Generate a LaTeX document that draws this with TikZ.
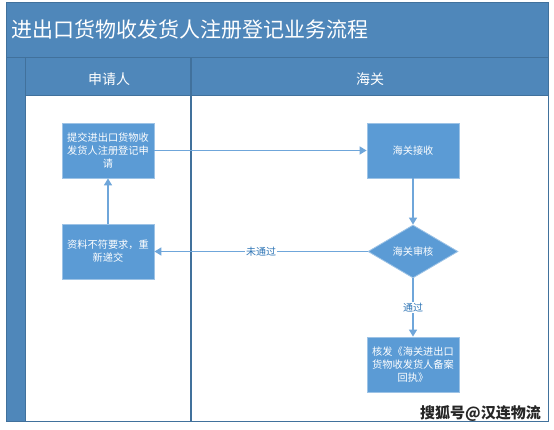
\documentclass[tikz,border=0pt]{standalone}
\usepackage{fontspec}
\setmainfont{Noto Sans CJK SC}
\usetikzlibrary{shapes.geometric,arrows.meta}
\definecolor{barblue}{HTML}{4F87BA}
\definecolor{edgeblue}{HTML}{41719C}
\definecolor{boxblue}{HTML}{5B9BD5}
\definecolor{lineblue}{HTML}{6FA6DA}
\definecolor{labblue}{HTML}{2E75B6}
\tikzset{
  procbox/.style={draw=boxblue!60!white, line width=0.8pt, fill=boxblue, minimum width=92pt, minimum height=55pt, align=center, font=\fontsize{10.2}{13}\selectfont, text=white, inner sep=0pt},
  decbox/.style={diamond, aspect=1.7, draw=boxblue!60!white, line width=0.8pt, fill=boxblue, minimum width=90pt, minimum height=53pt, font=\fontsize{10.2}{13}\selectfont, text=white, inner sep=0pt},
  flow/.style={draw=lineblue, line width=1.4pt, -{Triangle[length=7pt,width=8pt]}},
  flowlab/.style={fill=white, font=\fontsize{10}{12}\selectfont, text=labblue, inner sep=1pt},
}
\begin{document}
\begin{tikzpicture}[x=1pt,y=-1pt]
\useasboundingbox (0,0) rectangle (554,430);
% frame
\fill[white] (6,3) rectangle (548.5,421.5);
\fill[barblue] (6,3) rectangle (548.5,57.5);
\fill[barblue] (6,57.5) rectangle (548.5,96);
\fill[barblue] (6,96) rectangle (25,421.5);
\draw[edgeblue, line width=1pt] (6,57.5) -- (548.5,57.5);
\draw[edgeblue, line width=1pt] (25,57.5) -- (25,421.5);
\draw[edgeblue, line width=1pt] (25,96) -- (548.5,96);
\draw[edgeblue, line width=1.8pt] (191,57.5) -- (191,421.5);
\draw[edgeblue, line width=1pt] (6,3) rectangle (548.5,421.5);
% texts
\node[anchor=west, text=white, font=\fontsize{21}{24}\selectfont, inner sep=0pt] (title) at (11,30) {进出口货物收发货人注册登记业务流程};
\node[text=white, font=\fontsize{14}{16}\selectfont, inner sep=0pt] (lane1) at (109,79) {申请人};
\node[text=white, font=\fontsize{14}{16}\selectfont, inner sep=0pt] (lane2) at (370,79) {海关};
% nodes
\node[procbox] (submit) at (108,150.5) {提交进出口货物收\\发货人注册登记申\\请};
\node[procbox] (resubmit) at (108,251.5) {资料不符要求，重\\新递交};
\node[procbox] (receive) at (413,150.5) {海关接收};
\node[decbox] (review) at (413,251.5) {海关审核};
\node[procbox] (issue) at (413,364.5) {核发《海关进出口\\货物收发货人备案\\回执》};
% connectors
\draw[flow] (submit.east) -- (receive.west);
\draw[flow] (receive.south) -- (review.north);
\draw[flow] (review.west) -- node[flowlab, pos=0.5] (nopass) {未通过} (resubmit.east);
\draw[flow] (review.south) -- node[flowlab, pos=0.5] (pass) {通过} (issue.north);
\draw[flow] (resubmit.north) -- (submit.south);
% watermark
\node[anchor=east, font=\bfseries\fontsize{15}{17}\selectfont, text=black!85, inner sep=0pt] (wm) at (541,414) {搜狐号@汉连物流};
\end{tikzpicture}
\end{document}
